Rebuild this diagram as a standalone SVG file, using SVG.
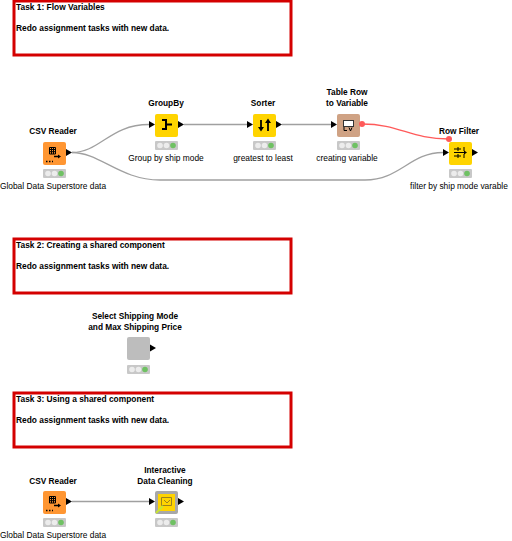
<svg xmlns="http://www.w3.org/2000/svg" width="512" height="541" viewBox="0 0 512 541">
<style>
text{font-family:"Liberation Sans",Arial,sans-serif;font-size:8.4px;fill:#000}
.t{font-weight:bold;text-anchor:middle;font-size:8.3px}
.c{text-anchor:middle}
.a{font-weight:bold;font-size:8.4px}
.b{fill:none;stroke:#d40000;stroke-width:3}
.w{fill:none;stroke:#a0a0a0;stroke-width:1.3}
.v{fill:none;stroke:#ff5a5a;stroke-width:1.3}
.bar{fill:#c8c8c8}
.l{fill:#ececec}
.g{fill:#6fc163}
.p{fill:#000}
.i{fill:none;stroke:#000;stroke-width:1.5}
.i2{fill:none;stroke:#000;stroke-width:1}
</style>
<defs>
<g id="st"><rect class="bar" x="0" y="0" width="23" height="9" rx="1"/><circle class="l" cx="5" cy="4.500" r="2.800"/><circle class="l" cx="11.500" cy="4.500" r="2.800"/><circle class="g" cx="18" cy="4.500" r="2.800"/></g>
<path id="ar" d="M0-3.500V3.500L6 0Z"/>
</defs>
<g id="annotations">
<g id="task1"><rect class="b" x="14" y="1" width="277" height="54"/><text class="a" x="16" y="10">Task 1: Flow Variables</text><text class="a" x="16" y="31">Redo assignment tasks with new data.</text></g>
<g id="task2"><rect class="b" x="14" y="239" width="277" height="54"/><text class="a" x="16" y="248">Task 2: Creating a shared component</text><text class="a" x="16" y="269">Redo assignment tasks with new data.</text></g>
<g id="task3"><rect class="b" x="14" y="393" width="277" height="54"/><text class="a" x="16" y="402">Task 3: Using a shared component</text><text class="a" x="16" y="423">Redo assignment tasks with new data.</text></g>
</g>
<g id="connectors">
<path class="w" d="M72 152.500C100 152.500 110 124.500 149 124.500"/>
<path class="w" d="M72 152.500C100 152.500 120 180 160 180H365C400 180 410 152.500 443 152.500"/>
<path class="w" d="M184 124.500H247"/>
<path class="w" d="M282 124.500H331"/>
<path class="v" d="M362 124C400 124 410 139 449 139"/>
<path class="w" d="M72 501.500H149"/>
</g>
<g id="csv-reader-1">
<text class="t" x="53" y="134">CSV Reader</text>
<rect x="43" y="142" width="23" height="23" rx="2" fill="#ff9632"/>
<path class="i2" stroke-width=".8" d="M49.500 147.500h6v6.500h-6zM49.500 149.500h6M49.500 151.700h6M51.500 147.500v6.500M53.500 147.500v6.500"/>
<path class="i" d="M54 156.500h5"/><path class="p" d="M58 154.500l3 2-3 2z"/>
<path stroke="#000" stroke-dasharray="1.500 1.500" stroke-width="1.500" d="M46 161.500h7"/>
<use href="#ar" x="66" y="152.500"/>
<use href="#st" x="43" y="169"/>
<text class="c" x="53" y="189">Global Data Superstore data</text>
</g>
<g id="groupby">
<text class="t" x="166" y="106">GroupBy</text>
<rect x="155" y="114" width="23" height="23" rx="2" fill="#ffd400"/>
<path fill="none" stroke="#000" stroke-width="2" d="M162 120h4v9h-4M166 124.500h6"/>
<use href="#ar" x="149" y="124.500"/><use href="#ar" x="178" y="124.500"/>
<use href="#st" x="155" y="141"/>
<text class="c" x="166" y="161">Group by ship mode</text>
</g>
<g id="sorter">
<text class="t" x="263" y="106">Sorter</text>
<rect x="253" y="114" width="23" height="23" rx="2" fill="#ffd400"/>
<path fill="none" stroke="#000" stroke-width="1.800" d="M261 120v8M268 122v9"/><path class="p" d="M258 127h6l-3 4.500zM265 123h6l-3-4.500z"/>
<use href="#ar" x="247" y="124.500"/><use href="#ar" x="276" y="124.500"/>
<use href="#st" x="253" y="141"/>
<text class="c" x="263" y="161">greatest to least</text>
</g>
<g id="table-row-to-variable">
<text class="t" x="347" y="95">Table Row</text><text class="t" x="347" y="106">to Variable</text>
<rect x="337" y="114" width="23" height="23" rx="2" fill="#cfa284"/>
<rect x="343.500" y="120.500" width="10" height="6" fill="#fff" stroke="#333"/>
<path class="i2" d="M344 127v3.500h3M349 127.500l1.500 3.500 1.500-3.500"/>
<use href="#ar" x="331" y="124.500"/>
<circle cx="362" cy="124" r="3" fill="#ff5a5a"/>
<use href="#st" x="337" y="141"/>
<text class="c" x="347" y="161">creating variable</text>
</g>
<g id="row-filter">
<text class="t" x="459" y="134">Row Filter</text>
<rect x="449" y="142" width="23" height="23" rx="2" fill="#ffd400"/>
<path class="i2" d="M454 149h7M454 156h7M454 152.500h11M458 147v4M458 154v4M464 147v4M464 154v4"/><path class="p" d="M464 150.500l3 2-3 2z"/>
<circle cx="449" cy="139" r="3" fill="#ff5a5a"/>
<use href="#ar" x="443" y="152.500"/><use href="#ar" x="472" y="152.500"/>
<use href="#st" x="449" y="169"/>
<text class="c" x="459" y="189">filter by ship mode varable</text>
</g>
<g id="shared-component">
<text class="t" x="135" y="319">Select Shipping Mode</text><text class="t" x="135" y="330">and Max Shipping Price</text>
<rect x="127" y="337" width="23" height="23" rx="2" fill="#bdbdbd"/>
<use href="#ar" x="150" y="348"/>
<use href="#st" x="127" y="365"/>
</g>
<g id="csv-reader-2">
<text class="t" x="53" y="484">CSV Reader</text>
<rect x="43" y="491" width="23" height="23" rx="2" fill="#ff9632"/>
<path class="i2" d="M49.500 496.500h6v6.500h-6zM49.500 498.500h6M49.500 500.700h6M51.500 496.500v6.500M53.500 496.500v6.500"/>
<path class="i" d="M54 505.500h5"/><path class="p" d="M58 503.500l3 2-3 2z"/>
<path stroke="#000" stroke-dasharray="1.500 1.500" stroke-width="1.500" d="M46 510.500h7"/>
<use href="#ar" x="66" y="501.500"/>
<use href="#st" x="43" y="518"/>
<text class="c" x="53" y="538">Global Data Superstore data</text>
</g>
<g id="interactive-data-cleaning">
<text class="t" x="165" y="473">Interactive</text><text class="t" x="165" y="484">Data Cleaning</text>
<rect x="155" y="491" width="23" height="23" rx="2" fill="#a8a8a8"/>
<rect x="158" y="494" width="17" height="17" fill="#ffd400"/>
<path d="M161.500 497.500h10v8h-10z" fill="none" stroke="#9a8020"/><path d="M164 500l3 3 3-3" fill="none" stroke="#9a8020"/>
<path d="M156 513l7-7" stroke="#c8e632" stroke-width="2"/>
<use href="#ar" x="149" y="501.500"/><use href="#ar" x="178" y="501.500"/>
<use href="#st" x="155" y="518"/>
</g>
</svg>
